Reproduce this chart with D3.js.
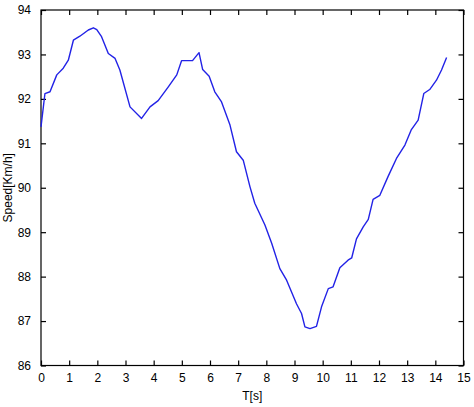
<!DOCTYPE html>
<html>
<head>
<meta charset="utf-8">
<script src="https://cdn.jsdelivr.net/npm/d3@7"></script>
<style>
  body { margin: 0; background: #fff; }
  text { font-family: "Liberation Sans", Arial, sans-serif; }
</style>
</head>
<body>
<svg width="474" height="407"></svg>
<script>
// time [s]
const T = [0.00, 0.14, 0.32, 0.56, 0.79, 0.97, 1.15, 1.38, 1.68, 1.86, 1.98, 2.15, 2.39, 2.63, 2.80,
    3.16, 3.57, 3.87, 4.16, 4.52, 4.82, 4.99, 5.38, 5.61, 5.74, 5.97, 6.17, 6.41, 6.71, 6.94,
    7.18, 7.42, 7.59, 7.95, 8.19, 8.48, 8.72, 9.07, 9.25, 9.37, 9.55, 9.78, 9.96, 10.20, 10.37,
    10.61, 10.90, 11.03, 11.20, 11.44, 11.62, 11.79, 12.03, 12.32, 12.62, 12.92, 13.15, 13.39,
    13.59, 13.80, 14.04, 14.22, 14.40];
// speed [km/h]
const speed = [91.37, 92.12, 92.16, 92.54, 92.69, 92.87, 93.32, 93.41, 93.55, 93.60, 93.56, 93.40, 93.02, 92.91, 92.65,
    91.82, 91.56, 91.82, 91.96, 92.27, 92.54, 92.86, 92.86, 93.04, 92.66, 92.51, 92.16, 91.93, 91.41, 90.81,
    90.62, 90.02, 89.65, 89.16, 88.75, 88.18, 87.92, 87.39, 87.17, 86.87, 86.83, 86.88, 87.32, 87.73, 87.77,
    88.20, 88.37, 88.42, 88.85, 89.12, 89.29, 89.74, 89.83, 90.25, 90.66, 90.96, 91.31, 91.52,
    92.12, 92.21, 92.42, 92.65, 92.93];
const xTicks = d3.range(0, 16);
const yTicks = d3.range(86, 95);

const svg = d3.select('svg');
const m = {left: 41, right: 463.5, top: 10, bottom: 365.5};

const x = d3.scaleLinear().domain([0, 15]).range([m.left, m.right]);
const y = d3.scaleLinear().domain([86, 94]).range([m.bottom, m.top]);

// frame
svg.append('rect')
    .attr('x', m.left).attr('y', m.top)
    .attr('width', m.right - m.left).attr('height', m.bottom - m.top)
    .attr('fill', 'none').attr('stroke', '#000').attr('stroke-width', 1.2);

// ticks inward, on all four sides
const tickLen = 5;
const styleAxis = g => {
    g.select('.domain').remove();
    g.selectAll('line').attr('stroke', '#000').attr('stroke-width', 1.2);
    g.selectAll('text').attr('fill', '#000').style('font-size', '12px');
};
svg.append('g').attr('transform', `translate(0,${m.bottom})`)
    .call(d3.axisBottom(x).tickValues(xTicks).tickSize(-tickLen).tickPadding(tickLen + 3))
    .call(styleAxis);
svg.append('g').attr('transform', `translate(0,${m.top})`)
    .call(d3.axisTop(x).tickValues(xTicks).tickSize(-tickLen).tickFormat(''))
    .call(styleAxis);
svg.append('g').attr('transform', `translate(${m.left},0)`)
    .call(d3.axisLeft(y).tickValues(yTicks).tickSize(-tickLen).tickPadding(tickLen + 5))
    .call(styleAxis);
svg.append('g').attr('transform', `translate(${m.right},0)`)
    .call(d3.axisRight(y).tickValues(yTicks).tickSize(-tickLen).tickFormat(''))
    .call(styleAxis);

// line
const data = T.map((t, i) => ({t, v: speed[i]}));
svg.append('path')
    .datum(data)
    .attr('fill', 'none')
    .attr('stroke', '#2222e6')
    .attr('stroke-width', 1.4)
    .attr('stroke-linejoin', 'round')
    .attr('d', d3.line().x(d => x(d.t)).y(d => y(d.v)));

// labels
svg.append('text')
    .attr('x', (m.left + m.right) / 2).attr('y', 400)
    .attr('text-anchor', 'middle')
    .style('font-size', '12px')
    .text('T[s]');
svg.append('text')
    .attr('transform', `translate(12,${(m.top + m.bottom) / 2}) rotate(-90)`)
    .attr('text-anchor', 'middle')
    .style('font-size', '12px')
    .text('Speed[Km/h]');
</script>
</body>
</html>
